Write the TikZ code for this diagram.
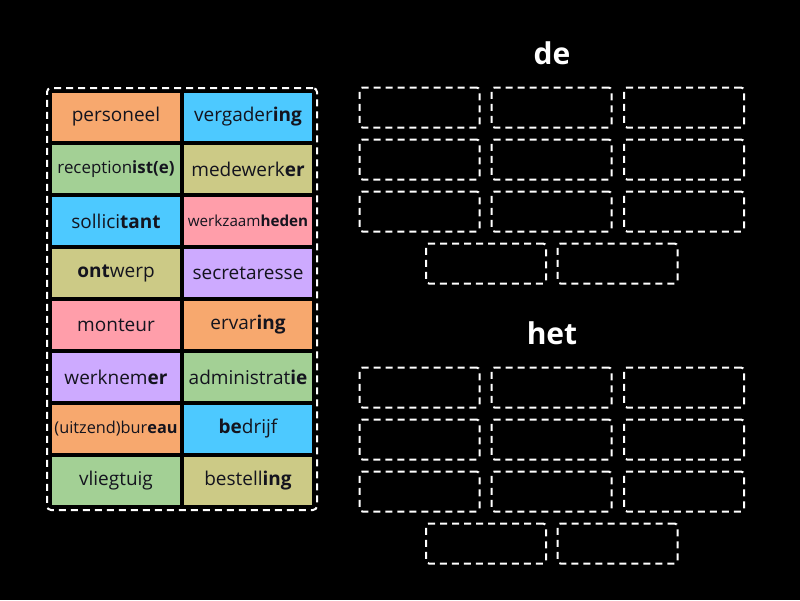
\documentclass[tikz,border=0pt]{standalone}
\usepackage{fontspec}
\setmainfont{Open Sans}
\definecolor{torange}{RGB}{247,168,110}
\definecolor{tblue}{RGB}{77,201,255}
\definecolor{tgreen}{RGB}{163,208,149}
\definecolor{tolive}{RGB}{204,202,134}
\definecolor{tpink}{RGB}{255,158,170}
\definecolor{tpurple}{RGB}{205,170,255}
\definecolor{ttext}{RGB}{20,20,30}
\begin{document}
\begin{tikzpicture}[x=1pt,y=-1pt,
  tile/.style={minimum width=128pt,minimum height=48pt,inner sep=0pt,text=ttext,font=\fontsize{19}{22}\selectfont},
  smalltile/.style={tile,font=\fontsize{16.3}{19}\selectfont},
  midtile/.style={tile,font=\fontsize{16.9}{19}\selectfont},
  tinytile/.style={tile,font=\fontsize{15.2}{18}\selectfont},
  slot/.style={draw=white,line width=2pt,dash pattern=on 7pt off 5pt,rounded corners=3pt,minimum width=120pt,minimum height=40pt,inner sep=0pt},
  frame/.style={draw=white,line width=2pt,dash pattern=on 7pt off 5pt,rounded corners=4pt,minimum width=270pt,minimum height=422pt,inner sep=0pt},
  title/.style={text=white,font=\fontsize{30}{34}\selectfont\bfseries}
]
\useasboundingbox[fill=black] (0,0) rectangle (800,600);
\node[frame] (box) at (182,299) {};
% tiles
\node[tile,fill=torange] (t1) at (116,117) {personeel};
\node[tile,fill=tblue] (t2) at (248,117) {vergader\textbf{ing}};
\node[midtile,fill=tgreen] (t3) at (116,169) {reception\textbf{ist(e)}};
\node[tile,fill=tolive] (t4) at (248,169) {medewerk\textbf{er}};
\node[tile,fill=tblue] (t5) at (116,221) {sollici\textbf{tant}};
\node[tinytile,fill=tpink] (t6) at (248,221) {werkzaam\textbf{heden}};
\node[tile,fill=tolive] (t7) at (116,273) {\textbf{ont}werp};
\node[tile,fill=tpurple] (t8) at (248,273) {secretaresse};
\node[tile,fill=tpink] (t9) at (116,325) {monteur};
\node[tile,fill=torange] (t10) at (248,325) {ervar\textbf{ing}};
\node[tile,fill=tpurple] (t11) at (116,377) {werknem\textbf{er}};
\node[tile,fill=tgreen] (t12) at (248,377) {administrat\textbf{ie}};
\node[smalltile,fill=torange] (t13) at (116,429) {(uitzend)bur\textbf{eau}};
\node[tile,fill=tblue] (t14) at (248,429) {\textbf{be}drijf};
\node[tile,fill=tgreen] (t15) at (116,481) {vliegtuig};
\node[tile,fill=tolive] (t16) at (248,481) {bestell\textbf{ing}};
% de
\node[title] (de) at (552,53) {de};
\foreach \r in {0,1,2}{
  \foreach \c/\x in {0/419.5,1/551.5,2/684}{
    \node[slot] (d\r\c) at (\x,107.5+52*\r) {};
  }
}
\node[slot] (d30) at (486,263.5) {};
\node[slot] (d31) at (617.5,263.5) {};
% het
\node[title] (het) at (552,333) {het};
\foreach \r in {0,1,2}{
  \foreach \c/\x in {0/419.5,1/551.5,2/684}{
    \node[slot] (h\r\c) at (\x,387.5+52*\r) {};
  }
}
\node[slot] (h30) at (486,543.5) {};
\node[slot] (h31) at (617.5,543.5) {};
\end{tikzpicture}
\end{document}
